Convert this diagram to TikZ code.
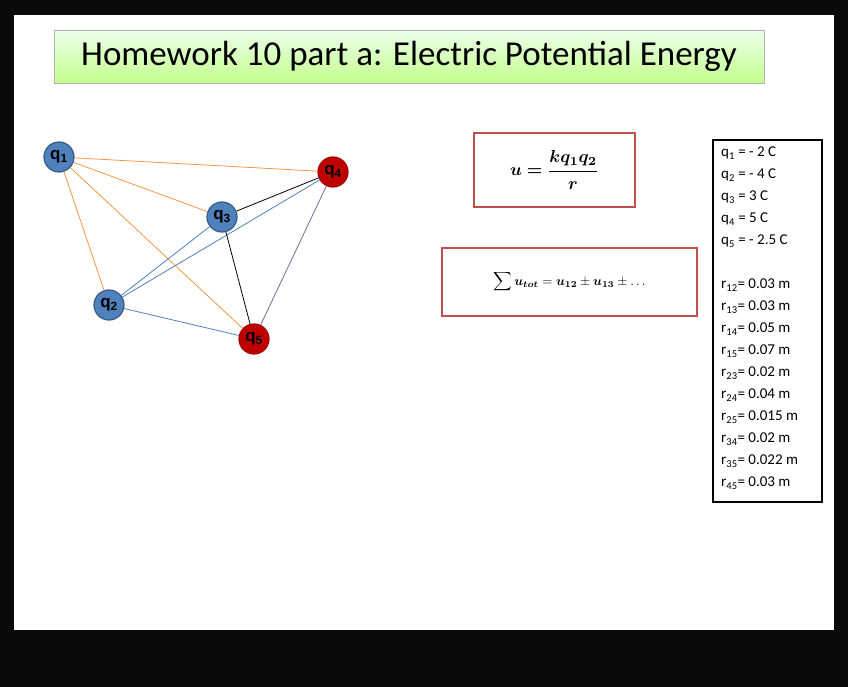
\documentclass[tikz,border=0pt]{standalone}
\usepackage{amsmath,bm,graphicx}
\usepackage{fontspec}
\setmainfont{Carlito}
\setsansfont{Liberation Sans}
\begin{document}
\begin{tikzpicture}[x=1pt,y=-1pt,
  chg/.style={circle,minimum size=30pt,inner sep=0pt,line width=1.2pt,font=\sffamily\bfseries\fontsize{17}{17}\selectfont},
  negq/.style={chg,fill=blueq,draw=blueq!70!black},
  posq/.style={chg,fill=redq,draw=redq!85!black},
  eo/.style={draw=orangeq,line width=0.8pt},
  eb/.style={draw=blueq,line width=0.8pt},
  ek/.style={draw=black,line width=0.8pt},
  ep/.style={draw=purpleq,line width=0.8pt},
  rbox/.style={draw=boxred,line width=1.2pt}]
\definecolor{blueq}{HTML}{4F81BD}
\definecolor{redq}{HTML}{C00000}
\definecolor{boxred}{HTML}{C0504D}
\definecolor{orangeq}{HTML}{F79646}
\definecolor{purpleq}{HTML}{8064A2}
\useasboundingbox (0,0) rectangle (848,687);
\fill[black!96] (0,0) rectangle (848,687);
\fill[white] (14,15) rectangle (834,630);
\node[draw=gray!60,shade,top color=green!8!white,bottom color=green!35!lime!45!white,minimum width=710pt,minimum height=53pt,font=\fontsize{35}{35}\selectfont] (title) at (409,56.5) {Homework 10 part a: Electric Potential Energy};
\node[negq] (q1) at (59,157) {q\textsubscript{1}};
\node[negq] (q3) at (222,217) {q\textsubscript{3}};
\node[posq] (q4) at (333,172) {q\textsubscript{4}};
\node[negq] (q2) at (109,305) {q\textsubscript{2}};
\node[posq] (q5) at (254,339) {q\textsubscript{5}};
\draw[eo] (q1) -- (q4);
\draw[eo] (q1) -- (q3);
\draw[eo] (q1) -- (q2);
\draw[eo] (q1) -- (q5);
\draw[eb] (q2) -- (q3);
\draw[eb] (q2) -- (q4);
\draw[eb] (q2) -- (q5);
\draw[ek] (q3) -- (q4);
\draw[ek] (q3) -- (q5);
\draw[ep] (q4) -- (q5);
\node[rbox,minimum width=161pt,minimum height=74pt,inner sep=0pt] (f1) at (554.5,170) {\scalebox{1.75}{$\bm{u=\dfrac{kq_1q_2}{r}}$}};
\node[rbox,minimum width=255pt,minimum height=68pt,inner sep=0pt] (f2) at (569.5,282) {\scalebox{1.3}{$\displaystyle\sum\bm{u_{tot}}=\bm{u_{12}}\pm\bm{u_{13}}\pm\ldots$}};
\node[draw,line width=1.2pt,minimum width=109pt,minimum height=362pt] (data) at (767.5,321) {};
\node[anchor=north west,inner sep=0pt,align=left,font=\fontsize{15}{22}\selectfont] (vals) at (721,147) {q\textsubscript{1} = - 2 C\\q\textsubscript{2} = - 4 C\\q\textsubscript{3} = 3 C\\q\textsubscript{4} = 5 C\\q\textsubscript{5} = - 2.5 C\\[22pt]
r\textsubscript{12}= 0.03 m\\r\textsubscript{13}= 0.03 m\\r\textsubscript{14}= 0.05 m\\r\textsubscript{15}= 0.07 m\\r\textsubscript{23}= 0.02 m\\r\textsubscript{24}= 0.04 m\\r\textsubscript{25}= 0.015 m\\r\textsubscript{34}= 0.02 m\\r\textsubscript{35}= 0.022 m\\r\textsubscript{45}= 0.03 m};
\end{tikzpicture}
\end{document}
